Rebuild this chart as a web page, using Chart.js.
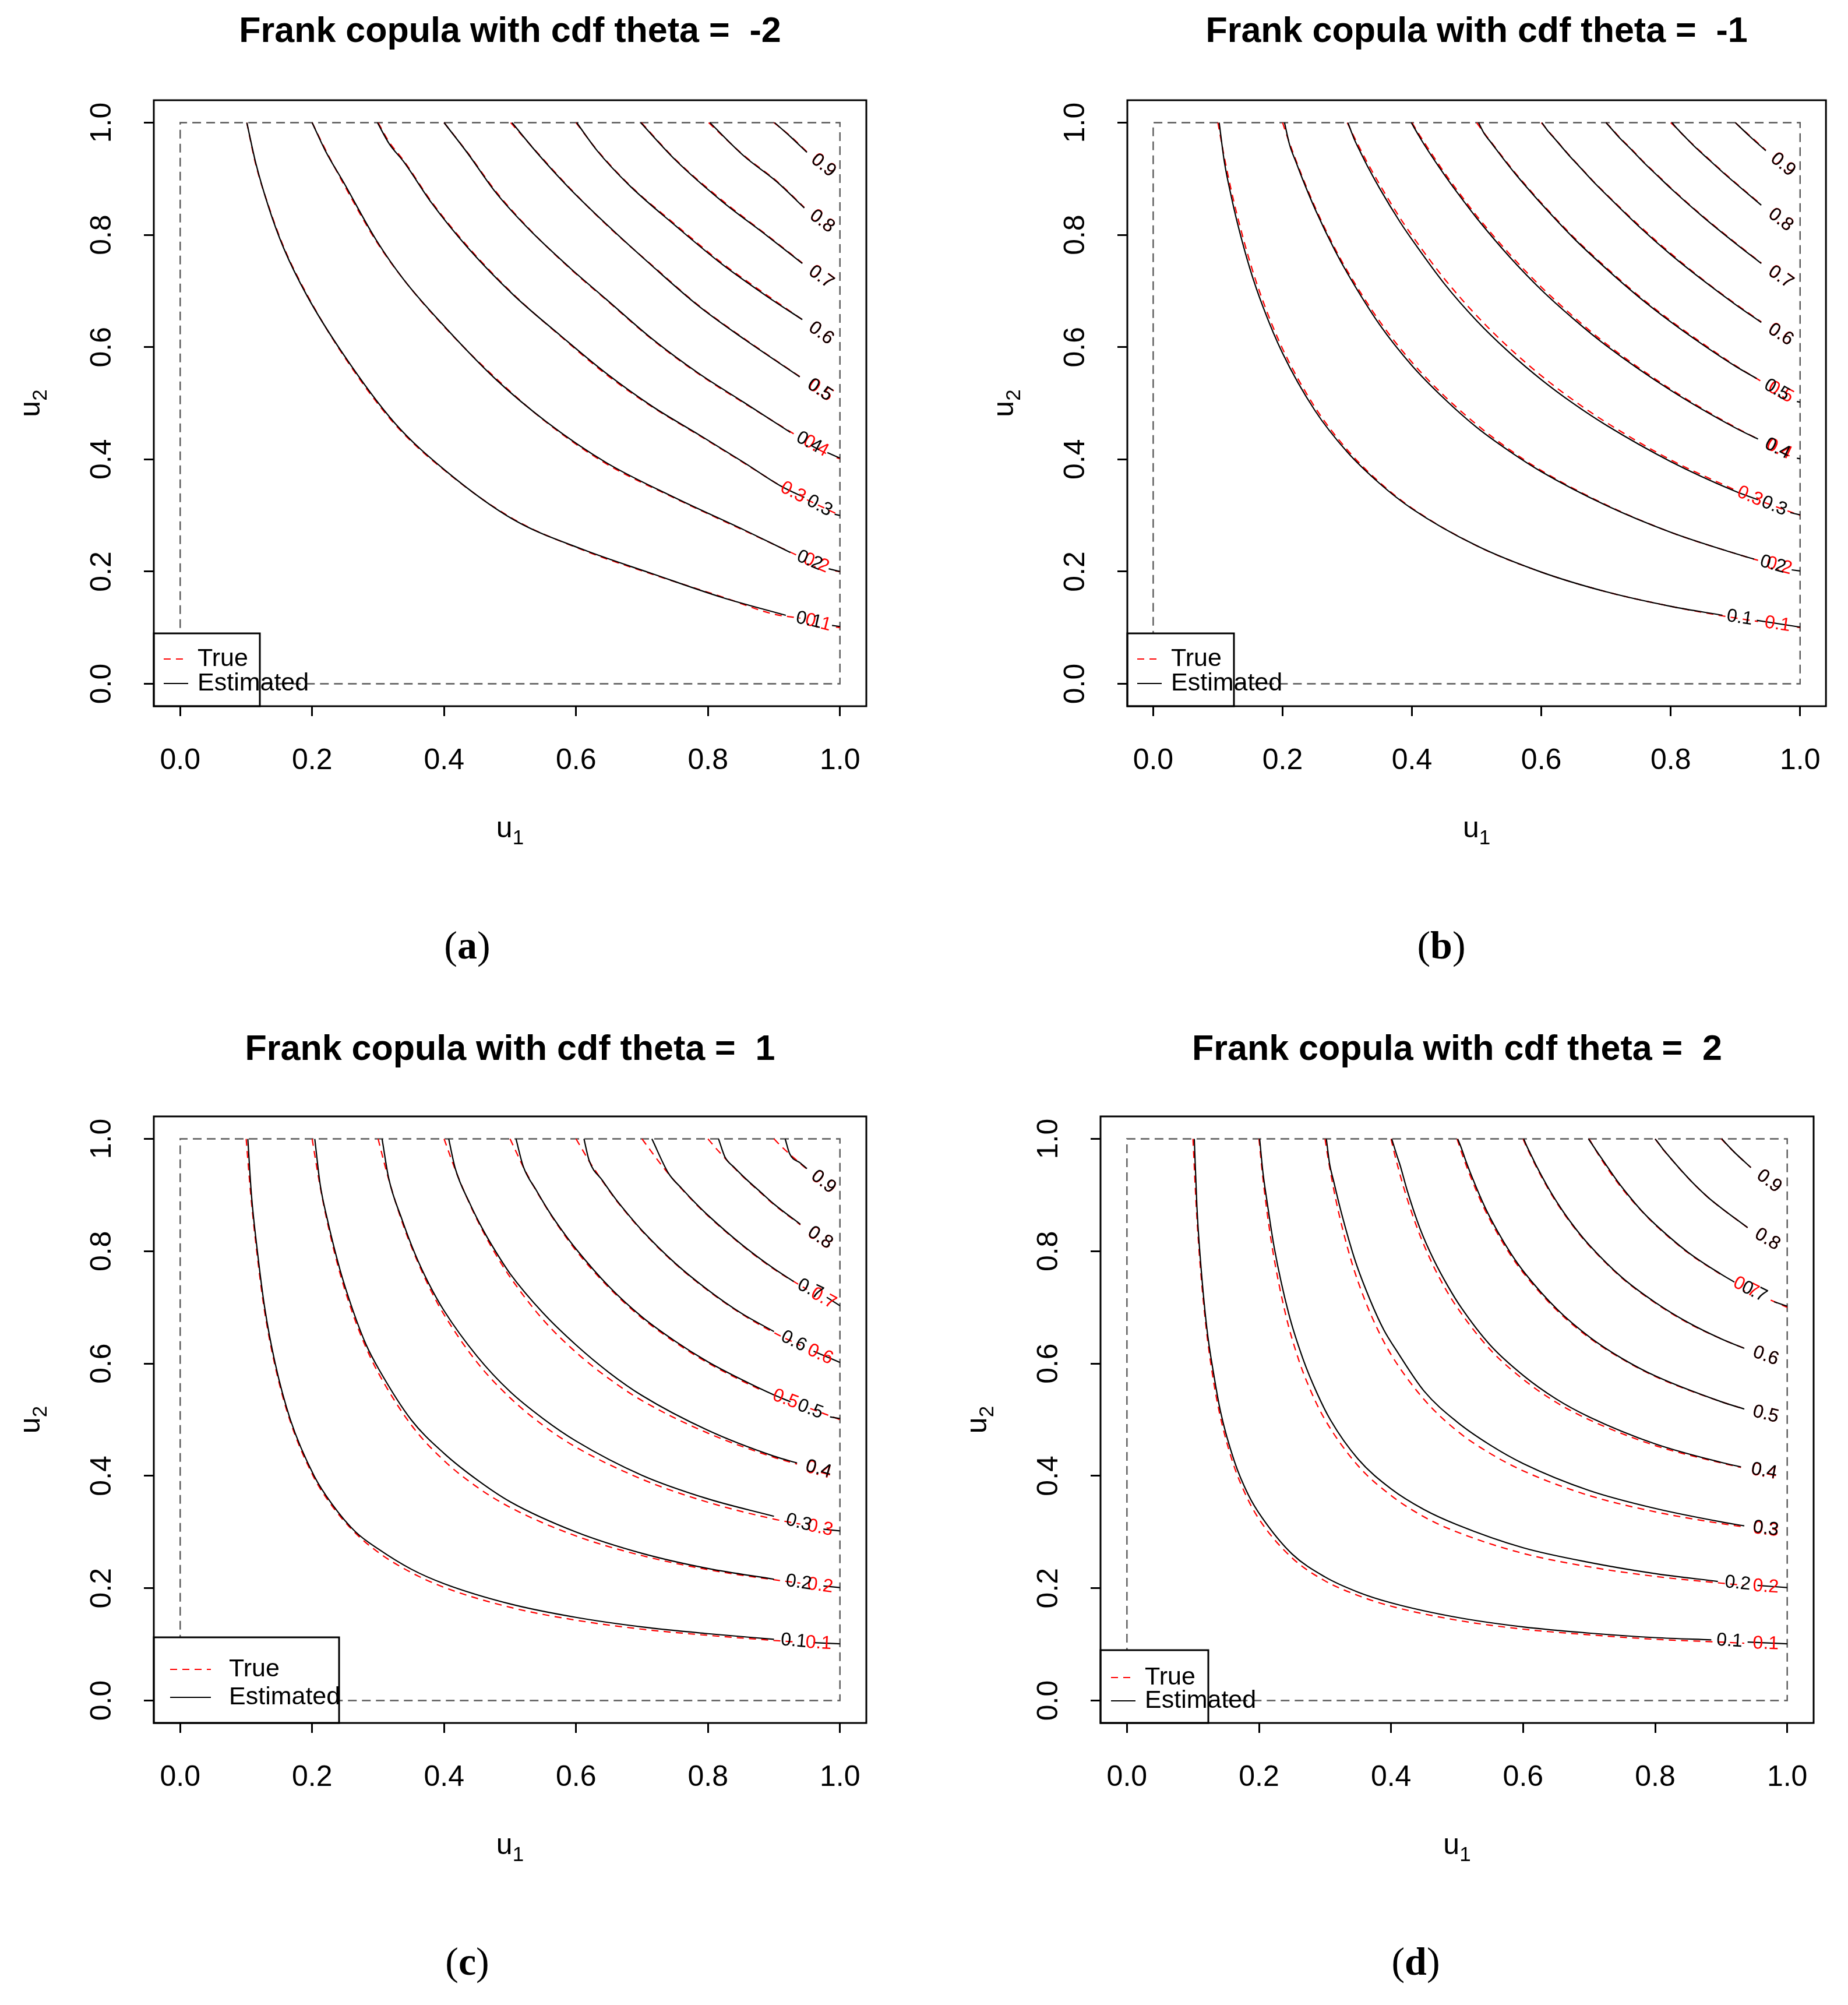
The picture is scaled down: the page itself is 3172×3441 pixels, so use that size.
<!DOCTYPE html>
<html>
<head>
<meta charset="utf-8">
<title>Frank copula cdf contours</title>
<script src="https://cdn.jsdelivr.net/npm/chart.js@4.4.1/dist/chart.umd.min.js"></script>
<style>
  html, body { margin: 0; padding: 0; background: #fff; }
  body { width: 3172px; height: 3441px; position: relative; overflow: hidden; }
  canvas { position: absolute; }
</style>
</head>
<body>
<canvas id="pa"></canvas>
<canvas id="pb"></canvas>
<canvas id="pc"></canvas>
<canvas id="pd"></canvas>
<script>
// contour levels, ticks and texts
const levels = [0.1, 0.2, 0.3, 0.4, 0.5, 0.6, 0.7, 0.8, 0.9];
const tickValues = [0, 0.2, 0.4, 0.6, 0.8, 1.0];
const thetas = ["-2", "-1", "1", "2"];
const tags = ["a", "b", "c", "d"];
const legendNames = ["True", "Estimated"];
const frameBox = [[0, 0], [1, 0], [1, 1], [0, 1], [0, 0]];

// each curve is a list of [u1, u2]; null = gap where the level label sits
// theta = -2
const estA = [
  [[0.101,1.0],[0.115,0.926],[0.135,0.846],[0.157,0.776],[0.192,0.692],[0.248,0.586],[0.325,0.465],[0.402,0.380],[0.506,0.292],[0.611,0.239],[0.716,0.196],[0.821,0.154],[0.918,0.122],null,[0.988,0.104],[1.0,0.102]],
  [[0.200,1.0],[0.220,0.950],[0.248,0.893],[0.297,0.791],[0.339,0.720],[0.402,0.635],[0.478,0.543],[0.555,0.467],[0.646,0.394],[0.751,0.331],[0.855,0.274],[0.925,0.234],null,[0.983,0.205],[1.0,0.200]],
  [[0.299,1.0],[0.317,0.962],[0.339,0.930],[0.381,0.857],[0.436,0.777],[0.506,0.692],[0.576,0.621],[0.646,0.553],[0.716,0.494],[0.786,0.444],[0.855,0.394],[0.911,0.352],[0.946,0.332],null,[0.992,0.302],[1.0,0.300]],
  [[0.400,1.0],[0.436,0.945],[0.478,0.876],[0.527,0.812],[0.590,0.742],[0.646,0.685],[0.716,0.614],[0.786,0.553],[0.855,0.501],[0.925,0.448],null,[0.981,0.412],[1.0,0.402]],
  [[0.503,1.0],[0.541,0.946],[0.590,0.883],[0.646,0.819],[0.716,0.744],[0.786,0.673],[0.855,0.614],[0.939,0.547],null,[1.0,0.500]],
  [[0.601,1.0],[0.632,0.950],[0.681,0.888],[0.751,0.816],[0.821,0.748],[0.890,0.690],[0.943,0.649],null,[1.0,0.600]],
  [[0.698,1.0],[0.751,0.933],[0.821,0.860],[0.890,0.798],[0.943,0.749],null,[1.0,0.700]],
  [[0.803,1.0],[0.855,0.940],[0.904,0.895],[0.946,0.848],null,[1.0,0.800]],
  [[0.901,1.0],[0.925,0.975],[0.950,0.947],null,[1.0,0.900]]
];
const trueA = [
  [[0.101,1.0],[0.114,0.928],[0.135,0.848],[0.157,0.778],[0.192,0.694],[0.248,0.584],[0.325,0.463],[0.402,0.379],[0.506,0.293],[0.611,0.238],[0.716,0.195],[0.821,0.155],[0.900,0.124],[0.940,0.117],null,[0.994,0.101],[1.0,0.100]],
  [[0.200,1.0],[0.221,0.950],[0.248,0.890],[0.297,0.789],[0.339,0.720],[0.402,0.634],[0.478,0.545],[0.555,0.466],[0.646,0.392],[0.751,0.330],[0.855,0.273],[0.935,0.229],null,[0.993,0.201],[1.0,0.200]],
  [[0.300,1.0],[0.317,0.965],[0.339,0.932],[0.381,0.859],[0.436,0.779],[0.506,0.693],[0.576,0.620],[0.646,0.551],[0.716,0.493],[0.786,0.443],[0.855,0.393],[0.908,0.354],null,[0.950,0.328],[1.0,0.300]],
  [[0.400,1.0],[0.436,0.946],[0.478,0.878],[0.527,0.813],[0.590,0.741],[0.646,0.684],[0.716,0.613],[0.786,0.552],[0.855,0.500],[0.932,0.444],null,[0.995,0.403],[1.0,0.401]],
  [[0.501,1.0],[0.541,0.947],[0.590,0.884],[0.646,0.818],[0.716,0.745],[0.786,0.674],[0.855,0.615],[0.941,0.546],null,[1.0,0.500]],
  [[0.600,1.0],[0.632,0.951],[0.681,0.889],[0.751,0.818],[0.821,0.750],[0.890,0.692],[0.943,0.649],null,[1.0,0.600]],
  [[0.699,1.0],[0.751,0.934],[0.821,0.862],[0.890,0.799],[0.943,0.750],null,[1.0,0.700]],
  [[0.801,1.0],[0.855,0.941],[0.904,0.896],[0.946,0.849],null,[1.0,0.800]],
  [[0.900,1.0],[0.925,0.976],[0.950,0.948],null,[1.0,0.900]]
];

// theta = -1
const estB = [
  [[0.102,1.0],[0.110,0.930],[0.120,0.872],[0.130,0.822],[0.150,0.738],[0.170,0.671],[0.200,0.589],[0.250,0.487],[0.300,0.413],[0.350,0.357],[0.400,0.312],[0.500,0.246],[0.600,0.199],[0.700,0.164],[0.800,0.138],[0.880,0.122],null,[0.933,0.113],[1.0,0.101]],
  [[0.203,1.0],[0.211,0.960],[0.221,0.929],[0.231,0.899],[0.251,0.844],[0.281,0.772],[0.301,0.730],[0.350,0.640],[0.400,0.567],[0.450,0.508],[0.500,0.457],[0.550,0.415],[0.600,0.378],[0.700,0.318],[0.800,0.270],[0.900,0.232],[0.929,0.222],null,[0.987,0.203],[1.0,0.201]],
  [[0.301,1.0],[0.311,0.970],[0.321,0.946],[0.331,0.923],[0.351,0.881],[0.381,0.824],[0.401,0.790],[0.450,0.713],[0.500,0.647],[0.550,0.591],[0.600,0.542],[0.650,0.499],[0.700,0.461],[0.800,0.396],[0.900,0.343],[0.935,0.328],null,[0.985,0.305],[1.0,0.301]],
  [[0.399,1.0],[0.410,0.978],[0.420,0.959],[0.440,0.924],[0.460,0.891],[0.480,0.860],[0.500,0.830],[0.550,0.762],[0.600,0.702],[0.650,0.650],[0.700,0.603],[0.800,0.523],[0.900,0.456],[0.935,0.436],null,[0.995,0.402],[1.0,0.401]],
  [[0.503,1.0],[0.512,0.980],[0.522,0.965],[0.541,0.936],[0.561,0.907],[0.581,0.880],[0.601,0.854],[0.650,0.794],[0.700,0.740],[0.750,0.690],[0.800,0.645],[0.850,0.604],[0.900,0.566],[0.933,0.544],null,[0.995,0.503],[1.0,0.502]],
  [[0.601,1.0],[0.611,0.984],[0.621,0.971],[0.641,0.944],[0.661,0.919],[0.681,0.894],[0.701,0.871],[0.750,0.816],[0.800,0.765],[0.850,0.719],[0.900,0.676],[0.940,0.644],null,[1.0,0.600]],
  [[0.700,1.0],[0.710,0.987],[0.720,0.974],[0.740,0.951],[0.760,0.927],[0.780,0.905],[0.800,0.883],[0.850,0.832],[0.900,0.785],[0.940,0.749],null,[1.0,0.700]],
  [[0.802,1.0],[0.811,0.988],[0.821,0.976],[0.840,0.954],[0.860,0.933],[0.880,0.912],[0.900,0.892],[0.940,0.853],null,[1.0,0.800]],
  [[0.900,1.0],[0.910,0.989],[0.920,0.978],[0.947,0.950],null,[1.0,0.900]]
];
const trueB = [
  [[0.100,1.0],[0.110,0.938],[0.120,0.883],[0.130,0.834],[0.150,0.750],[0.170,0.681],[0.200,0.597],[0.250,0.493],[0.300,0.417],[0.350,0.359],[0.400,0.313],[0.500,0.246],[0.600,0.199],[0.700,0.164],[0.800,0.138],[0.880,0.121],[0.935,0.111],null,[0.995,0.101],[1.0,0.100]],
  [[0.200,1.0],[0.210,0.966],[0.220,0.935],[0.230,0.905],[0.250,0.850],[0.280,0.778],[0.300,0.736],[0.350,0.646],[0.400,0.573],[0.450,0.513],[0.500,0.462],[0.550,0.418],[0.600,0.380],[0.700,0.319],[0.800,0.270],[0.900,0.232],[0.935,0.220],null,[1.0,0.200]],
  [[0.300,1.0],[0.310,0.976],[0.320,0.953],[0.330,0.931],[0.350,0.890],[0.380,0.833],[0.400,0.799],[0.450,0.722],[0.500,0.656],[0.550,0.599],[0.600,0.549],[0.650,0.505],[0.700,0.466],[0.800,0.399],[0.900,0.345],null,[0.945,0.323],[1.0,0.300]],
  [[0.400,1.0],[0.410,0.981],[0.420,0.963],[0.440,0.928],[0.460,0.895],[0.480,0.864],[0.500,0.834],[0.550,0.767],[0.600,0.707],[0.650,0.654],[0.700,0.606],[0.800,0.525],[0.900,0.457],[0.935,0.436],null,[1.0,0.400]],
  [[0.500,1.0],[0.510,0.984],[0.520,0.969],[0.540,0.939],[0.560,0.910],[0.580,0.883],[0.600,0.857],[0.650,0.796],[0.700,0.742],[0.750,0.692],[0.800,0.647],[0.850,0.606],[0.900,0.567],[0.940,0.539],null,[1.0,0.500]],
  [[0.600,1.0],[0.610,0.986],[0.620,0.973],[0.640,0.946],[0.660,0.921],[0.680,0.896],[0.700,0.873],[0.750,0.818],[0.800,0.767],[0.850,0.720],[0.900,0.677],[0.940,0.645],null,[1.0,0.600]],
  [[0.700,1.0],[0.710,0.988],[0.720,0.975],[0.740,0.952],[0.760,0.928],[0.780,0.906],[0.800,0.884],[0.850,0.833],[0.900,0.786],[0.940,0.750],null,[1.0,0.700]],
  [[0.800,1.0],[0.810,0.989],[0.820,0.977],[0.840,0.955],[0.860,0.934],[0.880,0.913],[0.900,0.893],[0.940,0.854],null,[1.0,0.800]],
  [[0.900,1.0],[0.910,0.989],[0.920,0.979],[0.947,0.951],null,[1.0,0.900]]
];

// theta = 1
const estC = [
  [[0.1025,1.0],[0.108,0.900],[0.117,0.800],[0.128,0.700],[0.144,0.600],[0.167,0.500],[0.203,0.400],[0.230,0.350],[0.266,0.300],[0.300,0.270],[0.350,0.234],[0.400,0.208],[0.500,0.172],[0.600,0.148],[0.700,0.131],[0.800,0.119],[0.900,0.109],null,[0.960,0.103],[1.0,0.101]],
  [[0.204,1.0],[0.212,0.920],[0.222,0.862],[0.242,0.768],[0.262,0.694],[0.282,0.633],[0.301,0.590],[0.350,0.500],[0.400,0.440],[0.450,0.393],[0.500,0.354],[0.600,0.300],[0.700,0.262],[0.800,0.235],[0.900,0.216],null,[0.975,0.204],[1.0,0.201]],
  [[0.306,1.0],[0.316,0.930],[0.336,0.857],[0.356,0.795],[0.377,0.742],[0.400,0.694],[0.450,0.613],[0.500,0.550],[0.550,0.502],[0.600,0.462],[0.700,0.401],[0.800,0.359],[0.900,0.328],null,[0.975,0.305],[1.0,0.302]],
  [[0.407,1.0],[0.417,0.947],[0.439,0.885],[0.460,0.836],[0.480,0.796],[0.500,0.760],[0.550,0.690],[0.600,0.633],[0.650,0.584],[0.700,0.543],[0.800,0.481],[0.900,0.435],[0.935,0.423],null,[1.0,0.401]],
  [[0.509,1.0],[0.520,0.951],[0.540,0.908],[0.560,0.869],[0.580,0.835],[0.600,0.804],[0.650,0.737],[0.700,0.683],[0.750,0.640],[0.800,0.603],[0.850,0.572],[0.900,0.544],[0.925,0.532],null,[0.985,0.505],[1.0,0.502]],
  [[0.612,1.0],[0.620,0.961],[0.640,0.926],[0.660,0.893],[0.680,0.864],[0.700,0.837],[0.750,0.779],[0.800,0.731],[0.850,0.690],[0.900,0.657],null,[0.960,0.622],[1.0,0.602]],
  [[0.715,1.0],[0.740,0.939],[0.760,0.912],[0.780,0.887],[0.800,0.864],[0.850,0.813],[0.900,0.769],[0.930,0.746],null,[0.980,0.718],[1.0,0.703]],
  [[0.816,1.0],[0.826,0.967],[0.840,0.949],[0.860,0.926],[0.880,0.905],[0.900,0.884],[0.940,0.848],null,[1.0,0.800]],
  [[0.917,1.0],[0.924,0.973],[0.940,0.957],[0.950,0.947],null,[1.0,0.900]]
];
const trueC = [
  [[0.100,1.0],[0.107,0.900],[0.116,0.800],[0.127,0.700],[0.143,0.600],[0.166,0.500],[0.2015,0.400],[0.228,0.350],[0.264,0.300],[0.300,0.264],[0.350,0.228],[0.400,0.2015],[0.500,0.166],[0.600,0.143],[0.700,0.127],[0.800,0.116],[0.900,0.107],[0.935,0.104],null,[1.0,0.100]],
  [[0.200,1.0],[0.210,0.929],[0.220,0.868],[0.240,0.770],[0.260,0.694],[0.280,0.633],[0.300,0.584],[0.350,0.491],[0.400,0.427],[0.450,0.380],[0.500,0.344],[0.600,0.293],[0.700,0.258],[0.800,0.233],[0.900,0.215],[0.940,0.209],null,[1.0,0.200]],
  [[0.300,1.0],[0.310,0.954],[0.320,0.912],[0.340,0.840],[0.360,0.781],[0.380,0.730],[0.400,0.687],[0.450,0.602],[0.500,0.539],[0.550,0.490],[0.600,0.451],[0.700,0.394],[0.800,0.353],[0.900,0.323],[0.940,0.314],null,[1.0,0.300]],
  [[0.400,1.0],[0.410,0.967],[0.420,0.936],[0.440,0.881],[0.460,0.833],[0.480,0.791],[0.500,0.754],[0.550,0.678],[0.600,0.620],[0.650,0.573],[0.700,0.534],[0.800,0.476],[0.900,0.433],[0.935,0.421],null,[1.0,0.400]],
  [[0.500,1.0],[0.510,0.975],[0.520,0.950],[0.540,0.907],[0.560,0.868],[0.580,0.833],[0.600,0.801],[0.650,0.735],[0.700,0.681],[0.750,0.638],[0.800,0.601],[0.850,0.570],[0.880,0.553],null,[0.955,0.520],[1.0,0.500]],
  [[0.600,1.0],[0.610,0.980],[0.620,0.960],[0.640,0.925],[0.660,0.892],[0.680,0.863],[0.700,0.836],[0.750,0.778],[0.800,0.730],[0.850,0.689],[0.900,0.655],[0.940,0.632],null,[1.0,0.600]],
  [[0.700,1.0],[0.710,0.984],[0.720,0.968],[0.740,0.938],[0.760,0.911],[0.780,0.886],[0.800,0.863],[0.850,0.812],[0.900,0.768],[0.950,0.732],null,[1.0,0.700]],
  [[0.800,1.0],[0.810,0.986],[0.820,0.973],[0.840,0.948],[0.860,0.925],[0.880,0.904],[0.900,0.883],[0.940,0.847],null,[1.0,0.800]],
  [[0.900,1.0],[0.910,0.988],[0.920,0.977],[0.940,0.956],[0.950,0.946],null,[1.0,0.900]]
];

// theta = 2
const estD = [
  [[0.102,1.0],[0.106,0.879],[0.111,0.789],[0.121,0.663],[0.132,0.577],[0.142,0.513],[0.163,0.425],[0.184,0.366],[0.205,0.325],[0.250,0.261],[0.300,0.220],[0.350,0.193],[0.400,0.174],[0.500,0.148],[0.600,0.131],[0.700,0.120],[0.800,0.112],[0.885,0.108],null,[0.940,0.104],[1.0,0.101]],
  [[0.201,1.0],[0.206,0.940],[0.212,0.890],[0.223,0.807],[0.245,0.689],[0.267,0.607],[0.288,0.547],[0.308,0.500],[0.350,0.430],[0.400,0.377],[0.450,0.340],[0.500,0.313],[0.600,0.272],[0.700,0.246],[0.800,0.226],[0.895,0.212],null,[0.955,0.205],[1.0,0.201]],
  [[0.302,1.0],[0.307,0.955],[0.313,0.925],[0.324,0.872],[0.346,0.782],[0.368,0.714],[0.389,0.660],[0.410,0.620],[0.450,0.551],[0.500,0.496],[0.550,0.455],[0.600,0.422],[0.700,0.374],[0.800,0.342],[0.900,0.318],[0.935,0.311],null,[1.0,0.301]],
  [[0.401,1.0],[0.409,0.970],[0.414,0.952],[0.424,0.910],[0.444,0.840],[0.465,0.784],[0.486,0.738],[0.506,0.700],[0.550,0.633],[0.600,0.579],[0.650,0.537],[0.700,0.505],[0.800,0.457],[0.900,0.424],[0.930,0.416],null,[1.0,0.401]],
  [[0.501,1.0],[0.507,0.982],[0.512,0.965],[0.522,0.934],[0.542,0.879],[0.562,0.834],[0.582,0.795],[0.602,0.762],[0.652,0.696],[0.702,0.646],[0.750,0.609],[0.800,0.578],[0.900,0.532],[0.935,0.519],null,[1.0,0.500]],
  [[0.601,1.0],[0.606,0.986],[0.611,0.974],[0.621,0.950],[0.641,0.907],[0.661,0.870],[0.681,0.838],[0.701,0.810],[0.750,0.753],[0.800,0.709],[0.850,0.673],[0.900,0.644],[0.935,0.627],null,[1.0,0.600]],
  [[0.699,1.0],[0.707,0.986],[0.712,0.977],[0.722,0.960],[0.742,0.926],[0.762,0.896],[0.781,0.870],[0.800,0.848],[0.850,0.798],[0.900,0.759],[0.920,0.745],null,[0.980,0.710],[1.0,0.702]],
  [[0.800,1.0],[0.806,0.991],[0.811,0.983],[0.821,0.969],[0.841,0.942],[0.861,0.917],[0.880,0.896],[0.900,0.877],[0.940,0.842],null,[1.0,0.800]],
  [[0.901,1.0],[0.911,0.987],[0.921,0.975],[0.945,0.949],null,[1.0,0.900]]
];
const trueD = [
  [[0.100,1.0],[0.105,0.879],[0.110,0.789],[0.120,0.663],[0.130,0.577],[0.140,0.513],[0.160,0.425],[0.180,0.366],[0.200,0.323],[0.250,0.254],[0.300,0.213],[0.350,0.187],[0.400,0.168],[0.500,0.143],[0.600,0.127],[0.700,0.117],[0.800,0.109],[0.900,0.104],[0.935,0.102],null,[1.0,0.100]],
  [[0.200,1.0],[0.205,0.940],[0.210,0.890],[0.220,0.807],[0.240,0.689],[0.260,0.607],[0.280,0.547],[0.300,0.500],[0.350,0.418],[0.400,0.365],[0.450,0.327],[0.500,0.300],[0.600,0.262],[0.700,0.238],[0.800,0.221],[0.900,0.209],[0.935,0.205],null,[1.0,0.200]],
  [[0.300,1.0],[0.305,0.963],[0.310,0.930],[0.320,0.872],[0.340,0.782],[0.360,0.714],[0.380,0.660],[0.400,0.616],[0.450,0.536],[0.500,0.480],[0.550,0.440],[0.600,0.409],[0.700,0.365],[0.800,0.336],[0.900,0.315],[0.935,0.309],null,[1.0,0.300]],
  [[0.400,1.0],[0.405,0.975],[0.410,0.952],[0.420,0.910],[0.440,0.840],[0.460,0.784],[0.480,0.738],[0.500,0.700],[0.550,0.625],[0.600,0.572],[0.650,0.531],[0.700,0.500],[0.800,0.454],[0.900,0.423],[0.930,0.415],null,[1.0,0.400]],
  [[0.500,1.0],[0.505,0.982],[0.510,0.965],[0.520,0.934],[0.540,0.879],[0.560,0.834],[0.580,0.795],[0.600,0.762],[0.650,0.696],[0.700,0.646],[0.750,0.608],[0.800,0.577],[0.900,0.532],[0.935,0.519],null,[1.0,0.500]],
  [[0.600,1.0],[0.605,0.986],[0.610,0.974],[0.620,0.950],[0.640,0.907],[0.660,0.870],[0.680,0.838],[0.700,0.810],[0.750,0.752],[0.800,0.708],[0.850,0.672],[0.900,0.644],[0.935,0.627],null,[1.0,0.600]],
  [[0.700,1.0],[0.705,0.990],[0.710,0.980],[0.720,0.961],[0.740,0.927],[0.760,0.897],[0.780,0.871],[0.800,0.847],[0.850,0.797],[0.900,0.758],null,[0.975,0.713],[1.0,0.700]],
  [[0.800,1.0],[0.805,0.992],[0.810,0.984],[0.820,0.970],[0.840,0.943],[0.860,0.918],[0.880,0.896],[0.900,0.877],[0.940,0.842],null,[1.0,0.800]],
  [[0.900,1.0],[0.910,0.988],[0.920,0.976],[0.945,0.949],null,[1.0,0.900]]
];

const SANS = '"Liberation Sans", Arial, Helvetica, sans-serif';
const SERIF = '"Liberation Serif", "DejaVu Serif", serif';
const RED_DASH = [12, 9];

// page layout (pixels in the 3172 x 3441 page)
const panels = [
  { id: "pa", left: 0, top: 0, width: 1586, height: 1720,
    box: { l: 264, t: 172, r: 1487, b: 1212 }, titleBase: 72, caption: { x: 802, y: 1645 },
    legend: { w: 182, h: 125, rows: [81, 39], line: [17, 59], text: 75 },
    theta: thetas[0], tag: tags[0], est: estA, tru: trueA },
  { id: "pb", left: 1586, top: 0, width: 1586, height: 1720,
    box: { l: 1935, t: 172, r: 3159, b: 1212 }, titleBase: 72, caption: { x: 2474, y: 1645 },
    legend: { w: 183, h: 125, rows: [81, 39], line: [17, 59], text: 75 },
    theta: thetas[1], tag: tags[1], est: estB, tru: trueB },
  { id: "pc", left: 0, top: 1720, width: 1586, height: 1721,
    box: { l: 264, t: 1916, r: 1487, b: 2957 }, titleBase: 1819, caption: { x: 802, y: 3389 },
    legend: { w: 318, h: 147, rows: [92, 44], line: [28, 98], text: 129 },
    theta: thetas[2], tag: tags[2], est: estC, tru: trueC },
  { id: "pd", left: 1586, top: 1720, width: 1586, height: 1721,
    box: { l: 1889, t: 1916, r: 3113, b: 2957 }, titleBase: 1819, caption: { x: 2430, y: 3389 },
    legend: { w: 185, h: 125, rows: [78, 38], line: [18, 60], text: 76 },
    theta: thetas[3], tag: tags[3], est: estD, tru: trueD }
];

function curveSets(curves, color, dash, order, kind) {
  return curves.map((pts, k) => ({
    data: pts.map((p, i) => p ? { x: p[0], y: p[1] } : { x: pts[i - 1][0], y: null }),
    showLine: true,
    borderColor: color,
    borderWidth: 2.2,
    borderDash: dash,
    pointRadius: 0,
    pointHoverRadius: 0,
    cubicInterpolationMode: "monotone",
    spanGaps: false,
    order: order,
    kind: kind,
    level: levels[k]
  }));
}

function subLabel(ctx, base, sub, x, y, rot) {
  ctx.save();
  ctx.translate(x, y);
  ctx.rotate(rot);
  ctx.font = "50px " + SANS;
  const wb = ctx.measureText(base).width;
  ctx.font = "35px " + SANS;
  const ws = ctx.measureText(sub).width;
  const x0 = -(wb + ws) / 2;
  ctx.textAlign = "left";
  ctx.textBaseline = "alphabetic";
  ctx.fillStyle = "#000";
  ctx.font = "50px " + SANS;
  ctx.fillText(base, x0, 0);
  ctx.font = "35px " + SANS;
  ctx.fillText(sub, x0 + wb, 12);
  ctx.restore();
}

function decorations(p) {
  return {
    id: "decor_" + p.id,
    afterDraw(chart) {
      const ctx = chart.ctx;
      const a = chart.chartArea;
      const xs = chart.scales.x, ys = chart.scales.y;
      ctx.save();

      // contour level labels, sitting in the gaps of each curve (true first, estimated on top)
      ["true", "est"].forEach(kind => {
        chart.data.datasets.forEach(ds => {
          if (ds.kind !== kind) return;
          const d = ds.data;
          for (let j = 1; j < d.length - 1; j++) {
            if (d[j].y !== null) continue;
            const x0 = xs.getPixelForValue(d[j - 1].x), y0 = ys.getPixelForValue(d[j - 1].y);
            const x1 = xs.getPixelForValue(d[j + 1].x), y1 = ys.getPixelForValue(d[j + 1].y);
            ctx.save();
            ctx.translate((x0 + x1) / 2, (y0 + y1) / 2);
            ctx.rotate(Math.atan2(y1 - y0, x1 - x0));
            ctx.fillStyle = ds.borderColor;
            ctx.font = "32px " + SANS;
            ctx.textAlign = "center";
            ctx.textBaseline = "middle";
            ctx.fillText(ds.level.toFixed(1), 0, 0);
            ctx.restore();
          }
        });
      });

      // legend in the bottom-left corner
      const lg = p.legend;
      ctx.setLineDash([]);
      ctx.fillStyle = "#fff";
      ctx.fillRect(a.left, a.bottom - lg.h, lg.w, lg.h);
      ctx.strokeStyle = "#000";
      ctx.lineWidth = 3;
      ctx.strokeRect(a.left, a.bottom - lg.h, lg.w, lg.h);
      legendNames.forEach((name, i) => {
        const y = a.bottom - lg.rows[i];
        ctx.beginPath();
        ctx.moveTo(a.left + lg.line[0], y);
        ctx.lineTo(a.left + lg.line[1], y);
        ctx.strokeStyle = i === 0 ? "#ff0000" : "#000";
        ctx.lineWidth = 2.2;
        ctx.setLineDash(i === 0 ? RED_DASH : []);
        ctx.stroke();
        ctx.setLineDash([]);
        ctx.fillStyle = "#000";
        ctx.font = "43px " + SANS;
        ctx.textAlign = "left";
        ctx.textBaseline = "middle";
        ctx.fillText(name, a.left + lg.text, y);
      });

      // plot frame
      ctx.strokeStyle = "#000";
      ctx.lineWidth = 3;
      ctx.strokeRect(a.left, a.top, a.right - a.left, a.bottom - a.top);

      // rotated y tick labels
      ctx.fillStyle = "#000";
      ctx.font = "50px " + SANS;
      ctx.textAlign = "center";
      ctx.textBaseline = "alphabetic";
      tickValues.forEach(v => {
        ctx.save();
        ctx.translate(a.left - 74, ys.getPixelForValue(v));
        ctx.rotate(-Math.PI / 2);
        ctx.fillText(v.toFixed(1), 0, 0);
        ctx.restore();
      });

      // axis titles
      subLabel(ctx, "u", "1", (a.left + a.right) / 2, a.bottom + 225, 0);
      subLabel(ctx, "u", "2", a.left - 196, (a.top + a.bottom) / 2, -Math.PI / 2);

      // main title
      ctx.fillStyle = "#000";
      ctx.font = "bold 61px " + SANS;
      ctx.textAlign = "center";
      ctx.textBaseline = "alphabetic";
      ctx.fillText("Frank copula with cdf theta =  " + p.theta, (a.left + a.right) / 2, p.titleBase - p.top);

      // sub-figure caption "(a)"
      const parts = [["(", "68px "], [p.tag, "bold 68px "], [")", "68px "]];
      let total = 0;
      parts.forEach(q => { ctx.font = q[1] + SERIF; total += ctx.measureText(q[0]).width; });
      let cx = p.caption.x - p.left - total / 2;
      ctx.textAlign = "left";
      parts.forEach(q => {
        ctx.font = q[1] + SERIF;
        ctx.fillText(q[0], cx, p.caption.y - p.top);
        cx += ctx.measureText(q[0]).width;
      });
      ctx.restore();
    }
  };
}

function axisOptions(isX, size) {
  return {
    type: "linear",
    position: isX ? "bottom" : "left",
    min: -0.04,
    max: 1.04,
    afterBuildTicks: s => { s.ticks = tickValues.map(v => ({ value: v })); },
    afterFit: s => { if (isX) s.height = size; else s.width = size; },
    grid: { display: true, drawOnChartArea: false, drawTicks: true, tickLength: 17, lineWidth: 3, color: "#000" },
    border: { display: false },
    ticks: {
      display: isX,
      color: "#000",
      font: { family: SANS, size: 50 },
      padding: 47,
      maxRotation: 0,
      minRotation: 0,
      autoSkip: false,
      callback: v => Number(v).toFixed(1)
    }
  };
}

panels.forEach(p => {
  const cv = document.getElementById(p.id);
  cv.width = p.width;
  cv.height = p.height;
  cv.style.left = p.left + "px";
  cv.style.top = p.top + "px";
  cv.style.width = p.width + "px";
  cv.style.height = p.height + "px";

  const frame = {
    data: frameBox.map(q => ({ x: q[0], y: q[1] })),
    showLine: true,
    borderColor: "#595959",
    borderWidth: 2.4,
    borderDash: [15, 9],
    pointRadius: 0,
    tension: 0,
    order: 2,
    kind: "frame"
  };

  new Chart(cv, {
    type: "scatter",
    data: {
      datasets: [
        ...curveSets(p.est, "#000000", [], 0, "est"),
        ...curveSets(p.tru, "#ff0000", RED_DASH, 1, "true"),
        frame
      ]
    },
    options: {
      responsive: false,
      animation: false,
      devicePixelRatio: 1,
      events: [],
      layout: {
        autoPadding: false,
        padding: { left: 0, top: p.box.t - p.top, right: p.left + p.width - p.box.r, bottom: 0 }
      },
      plugins: { legend: { display: false }, tooltip: { enabled: false }, title: { display: false } },
      scales: {
        x: axisOptions(true, p.top + p.height - p.box.b),
        y: axisOptions(false, p.box.l - p.left)
      }
    },
    plugins: [decorations(p)]
  });
});
</script>
</body>
</html>
